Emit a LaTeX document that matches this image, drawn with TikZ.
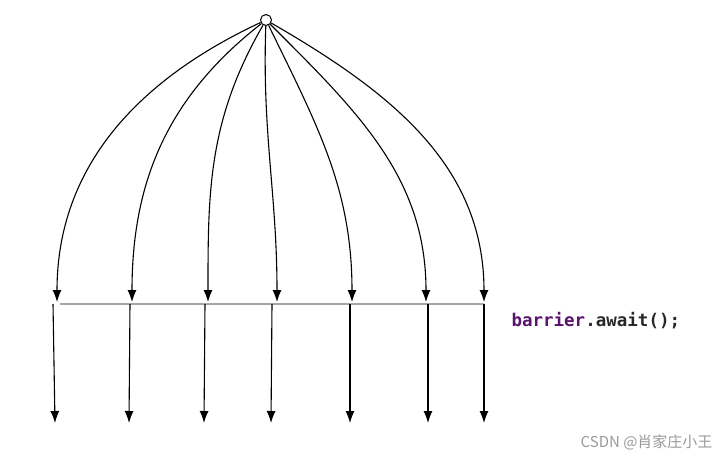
\documentclass[tikz,border=0pt]{standalone}
\usepackage{fontspec}
\newfontfamily\codefont{DejaVu Sans Mono}
\newfontfamily\cjk{Noto Sans CJK SC}
\usetikzlibrary{arrows.meta}
\definecolor{keypurple}{RGB}{90,20,110}
\definecolor{codegray}{RGB}{40,40,40}
\begin{document}
\begin{tikzpicture}[x=1pt,y=-1pt,
threadline/.style={-{Latex[length=12pt,width=9pt]},line width=1.1pt},
forknode/.style={circle,draw,line width=1pt,inner sep=0pt,minimum size=11pt,fill=white}
]
\useasboundingbox (0,0) rectangle (728,464);
%Nodes
\node[forknode] at (266,20) (FORK) {};
\node[anchor=west,font=\codefont\bfseries\fontsize{17.5}{20}\selectfont] at (508,321) (CODE)
  {\textcolor{keypurple}{barrier}\textcolor{codegray}{.await();}};
\node[anchor=east,text=gray!80,font=\cjk\fontsize{15}{18}\selectfont] at (716,442) (MARK) {CSDN @肖家庄小王};
\coordinate (BARL) at (60,304);
\coordinate (BARR) at (484,304);
%Lines
\draw[gray!70,line width=1.1pt] (BARL) -- (BARR);
\foreach \i/\xa/\xb/\xc/\ang in {1/57/53/55/205,2/132/130/129/218,3/208/205/204/240,4/277/272/271/268,5/352/350/350/296,6/426/428/428/315,7/484/484/484/330}{
  \coordinate (TOP-\i) at (\xa,302);
  \coordinate (START-\i) at (\xb,304);
  \coordinate (END-\i) at (\xc,423);
  \draw[threadline] (FORK) to[out=\ang,in=90] (TOP-\i);
  \draw[threadline] (START-\i) -- (END-\i);
}
\end{tikzpicture}
\end{document}
